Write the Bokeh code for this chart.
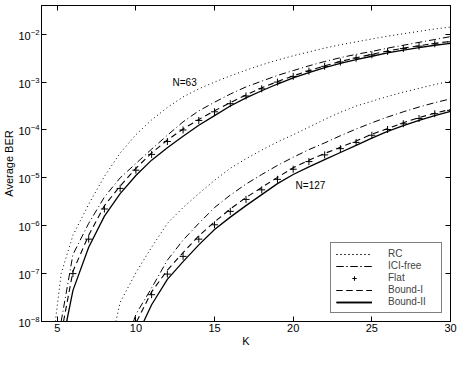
from bokeh.plotting import figure
from bokeh.models import (Range1d, FixedTicker, LinearAxis, Legend,
                          LegendItem, ColumnDataSource, CustomJSTickFormatter)
from bokeh.core.properties import value
from bokeh.embed import file_html
from bokeh.resources import INLINE

# ---------------- data (log10 of average BER) -------------
# N = 63
k_rc63 = [4.88, 5.25] + list(range(6, 31))
e_rc63 = [-8, -7.0, -6.2, -5.55, -4.97, -4.48, -4.1, -3.79, -3.53, -3.31, -3.14,
          -3.0, -2.87, -2.75, -2.64, -2.54, -2.45, -2.37, -2.29, -2.22, -2.16,
          -2.1, -2.04, -1.99, -1.94, -1.89, -1.85]
k_ici63 = [5.25] + list(range(6, 31))
e_ici63 = [-8, -6.6, -5.95, -5.4, -5.0, -4.7, -4.4, -4.11, -3.83, -3.6, -3.42,
           -3.25, -3.1, -2.98, -2.86, -2.76, -2.66, -2.57, -2.49, -2.42, -2.36,
           -2.29, -2.23, -2.17, -2.11, -2.05]
k_flat63 = list(range(6, 31))
e_flat63 = [-7.0, -6.28, -5.65, -5.22, -4.84, -4.51, -4.24, -4.0, -3.8, -3.62,
            -3.45, -3.29, -3.14, -3.0, -2.88, -2.77, -2.67, -2.58, -2.5, -2.43,
            -2.36, -2.3, -2.25, -2.2, -2.16]
k_b1_63 = [5.4] + list(range(6, 31))
e_b1_63 = [-8, -6.95, -6.2, -5.58, -5.17, -4.8, -4.48, -4.21, -3.98, -3.78, -3.6,
           -3.43, -3.27, -3.12, -2.99, -2.87, -2.76, -2.66, -2.57, -2.49, -2.42,
           -2.35, -2.29, -2.24, -2.19, -2.15]
k_b2_63 = [5.6] + list(range(6, 31))
e_b2_63 = [-8, -7.35, -6.45, -5.8, -5.33, -4.95, -4.63, -4.37, -4.13, -3.9, -3.7,
           -3.5, -3.33, -3.18, -3.04, -2.91, -2.8, -2.7, -2.61, -2.53, -2.46,
           -2.39, -2.33, -2.28, -2.23, -2.19]

# N = 127
k_rc127 = [8.73] + list(range(9, 31))
e_rc127 = [-8, -7.6, -6.98, -6.45, -5.95, -5.62, -5.33, -5.05, -4.8, -4.6, -4.42,
           -4.25, -4.1, -3.94, -3.78, -3.63, -3.5, -3.4, -3.3, -3.21, -3.13,
           -3.05, -2.98]
k_ici127 = [9.85] + list(range(10, 31))
e_ici127 = [-8, -7.85, -7.3, -6.72, -6.3, -5.95, -5.62, -5.36, -5.13, -4.93, -4.74,
            -4.57, -4.41, -4.27, -4.12, -3.98, -3.85, -3.73, -3.62, -3.52, -3.43,
            -3.35]
k_flat127 = list(range(10, 31))
e_flat127 = [-8.05, -7.44, -7.01, -6.64, -6.28, -5.98, -5.7, -5.45, -5.25, -5.03,
             -4.82, -4.66, -4.52, -4.39, -4.26, -4.11, -3.99, -3.87, -3.76, -3.66,
             -3.59]
k_b1_127 = [10.05] + list(range(11, 31))
e_b1_127 = [-8, -7.38, -6.93, -6.56, -6.21, -5.92, -5.65, -5.41, -5.2, -4.99, -4.79,
            -4.63, -4.49, -4.36, -4.23, -4.09, -3.97, -3.85, -3.74, -3.65, -3.57]
k_b2_127 = [10.5] + list(range(11, 31))
e_b2_127 = [-8, -7.65, -7.12, -6.75, -6.4, -6.08, -5.82, -5.58, -5.35, -5.12, -4.93,
            -4.77, -4.62, -4.47, -4.32, -4.17, -4.03, -3.91, -3.8, -3.7, -3.61]

x_ticks = [5, 10, 15, 20, 25, 30]
y_tick_exps = [-8, -7, -6, -5, -4, -3, -2]
legend_labels = ["RC", "ICI-free", "Flat", "Bound-I", "Bound-II"]
annot_text = ["N=63", "N=127"]
annot_k = [13.1, 21.1]
annot_exp = [-3.0, -5.15]


def ber(exps):
    return [10.0 ** e for e in exps]


FONT = "Liberation Sans"

p = figure(width=458, height=349, output_backend="svg", toolbar_location=None,
           y_axis_type="log", x_range=Range1d(4, 30),
           y_range=Range1d(1e-8, 10 ** -1.4),
           min_border_left=20, min_border_right=8, min_border_top=0,
           min_border_bottom=0)
p.grid.visible = False
p.outline_line_color = "black"
p.outline_line_width = 1
p.background_fill_color = "white"
p.border_fill_color = "white"

for ax in (p.xaxis[0], p.yaxis[0]):
    ax.major_tick_in = 5
    ax.major_tick_out = 0
    ax.minor_tick_line_color = None
    ax.axis_line_color = "black"
    ax.major_tick_line_color = "black"
    ax.major_label_text_font = FONT
    ax.major_label_text_font_size = "11px"
    ax.major_label_text_color = "black"
    ax.axis_label_text_font = FONT
    ax.axis_label_text_font_size = "11px"
    ax.axis_label_text_font_style = "normal"
    ax.axis_label_text_color = "black"
    ax.major_label_standoff = 2

p.xaxis.ticker = FixedTicker(ticks=x_ticks)
p.yaxis.ticker = FixedTicker(ticks=ber(y_tick_exps))
p.xaxis.axis_label = "K"
p.xaxis.axis_label_standoff = 0
p.yaxis.axis_label = "Average BER"
p.yaxis.axis_label_standoff = 0

# mirrored ticks on top and right (labels blank)
blank = CustomJSTickFormatter(code="return ' '")
top = LinearAxis(ticker=FixedTicker(ticks=x_ticks), formatter=blank,
                 major_tick_in=5, major_tick_out=0, minor_tick_line_color=None,
                 major_label_text_font_size="2px", major_label_standoff=0,
                 axis_line_color="black")
right = LinearAxis(ticker=FixedTicker(ticks=ber(y_tick_exps)), formatter=blank,
                   major_tick_in=5, major_tick_out=0, minor_tick_line_color=None,
                   major_label_text_font_size="2px", major_label_standoff=0,
                   axis_line_color="black")
p.add_layout(top, "above")
p.add_layout(right, "right")

DOT = "1 3"
DASHDOT = "7 3 1 3"
DASH = "6 4"

r = {}
r["rc"] = [p.line(k_rc63, ber(e_rc63), line_color="black", line_dash=DOT, line_width=1),
           p.line(k_rc127, ber(e_rc127), line_color="black", line_dash=DOT, line_width=1)]
r["ici"] = [p.line(k_ici63, ber(e_ici63), line_color="black", line_dash=DASHDOT, line_width=1),
            p.line(k_ici127, ber(e_ici127), line_color="black", line_dash=DASHDOT, line_width=1)]
r["flat"] = [p.scatter(k_flat63, ber(e_flat63), marker="cross", size=7, line_color="black", line_width=1),
             p.scatter(k_flat127, ber(e_flat127), marker="cross", size=7, line_color="black", line_width=1)]
r["b1"] = [p.line(k_b1_63, ber(e_b1_63), line_color="black", line_dash=DASH, line_width=1.1),
           p.line(k_b1_127, ber(e_b1_127), line_color="black", line_dash=DASH, line_width=1.1)]
r["b2"] = [p.line(k_b2_63, ber(e_b2_63), line_color="black", line_width=1.3),
           p.line(k_b2_127, ber(e_b2_127), line_color="black", line_width=1.3)]

src = ColumnDataSource(dict(x=annot_k, y=ber(annot_exp), t=annot_text))
p.text(x="x", y="y", text="t", source=src, text_font=value(FONT),
       text_font_size="10px", text_align="center", text_baseline="middle",
       text_color="black")

items = [LegendItem(label=lab, renderers=r[key])
         for lab, key in zip(legend_labels, ["rc", "ici", "flat", "b1", "b2"])]
legend = Legend(items=items, location="bottom_right", margin=8, padding=5,
                spacing=1, glyph_width=36, glyph_height=10, label_height=10,
                label_standoff=16, label_width=48,
                label_text_font=FONT, label_text_font_size="10px",
                border_line_color="black", border_line_width=1,
                background_fill_color="white", background_fill_alpha=1)
p.add_layout(legend)

open("out.html", "w").write(file_html(p, INLINE))
